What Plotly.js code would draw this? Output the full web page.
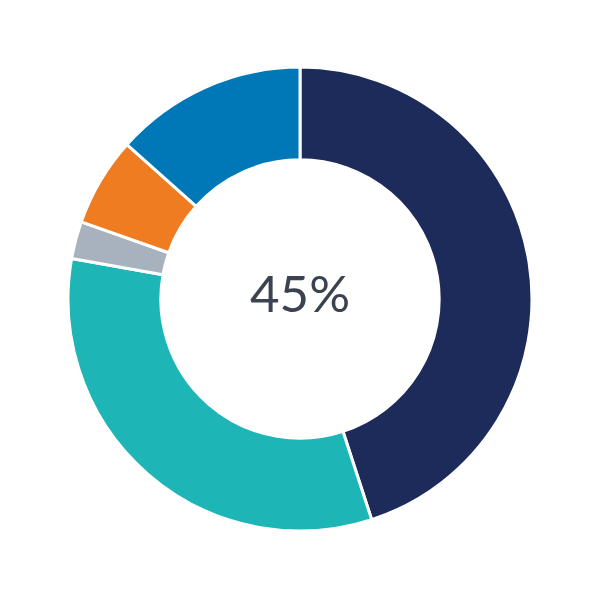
<!DOCTYPE html>
<html>
<head>
<meta charset="utf-8">
<script src="https://cdn.plot.ly/plotly-3.0.1.min.js"></script>
<style>html,body{margin:0;padding:0;background:#fff;}#chart{width:600px;height:599px;}</style>
</head>
<body>
<div id="chart"></div>
<script>
const labels = ["Navy", "Teal", "Gray", "Orange", "Blue"];
const values = [45, 32.8, 2.6, 6.2, 13.4];
const colors = ["#1c2b5a", "#1db5b6", "#a8b1be", "#f07c22", "#0077b6"];
const centerText = "45%";

Plotly.newPlot("chart", [{
  type: "pie",
  labels: labels,
  values: values,
  sort: false,
  direction: "clockwise",
  rotation: 0,
  hole: 0.6,
  textinfo: "none",
  hoverinfo: "none",
  marker: {colors: colors, line: {color: "#ffffff", width: 3}},
  domain: {x: [0.1133, 0.8867], y: [0.1135, 0.888]}
}], {
  width: 600, height: 599,
  margin: {l: 0, r: 0, t: 0, b: 0},
  showlegend: false,
  paper_bgcolor: "#ffffff",
  annotations: [{
    text: centerText, x: 0.5, y: 0.511, xref: "paper", yref: "paper",
    showarrow: false, font: {family: "Lato, sans-serif", size: 51, color: "#3b4350"}
  }]
}, {staticPlot: true});
</script>
</body>
</html>
